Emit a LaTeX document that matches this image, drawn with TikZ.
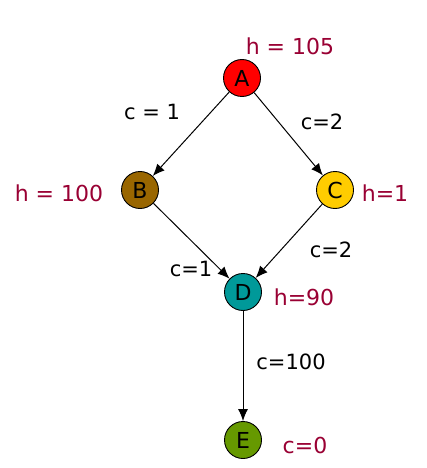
\documentclass[tikz,border=0pt]{standalone}
\usepackage{fontspec}
\setmainfont{DejaVu Sans}
\usetikzlibrary{arrows.meta}
\definecolor{hred}{HTML}{990033}
\definecolor{nA}{HTML}{FF0000}
\definecolor{nB}{HTML}{996600}
\definecolor{nC}{HTML}{FFCC00}
\definecolor{nD}{HTML}{009999}
\definecolor{nE}{HTML}{669900}
\tikzset{
  state/.style={circle,draw=black,line width=0.9pt,minimum size=37pt,inner sep=0pt,font=\fontsize{22}{24}\selectfont},
  hlab/.style={text=hred,font=\fontsize{22}{24}\selectfont,inner sep=0pt},
  clab/.style={text=black,font=\fontsize{21}{23}\selectfont,inner sep=0pt},
  edge/.style={-{Latex[length=12pt,width=10pt]},line width=1pt}
}
\begin{document}
\begin{tikzpicture}[x=1pt,y=-1pt]
\useasboundingbox (0,0) rectangle (426,468);
\node[state,fill=nA] (A) at (242,78) {A};
\node[state,fill=nB] (B) at (140,190) {B};
\node[state,fill=nC] (C) at (335,190) {C};
\node[state,fill=nD] (D) at (243,292) {D};
\node[state,fill=nE] (E) at (243,440) {E};
\draw[edge] (A) -- (B);
\draw[edge] (A) -- (C);
\draw[edge] (B) -- (D);
\draw[edge] (C) -- (D);
\draw[edge] (D) -- (E);
\node[hlab] (hA) at (290,46) {h = 105};
\node[hlab] (hB) at (59,193) {h = 100};
\node[hlab] (hC) at (385,193) {h=1};
\node[hlab] (hD) at (304,297) {h=90};
\node[hlab] (hE) at (305,445) {c=0};
\node[clab] (c1) at (152,112) {c = 1};
\node[clab] (c2) at (322,122) {c=2};
\node[clab] (c3) at (331,250) {c=2};
\node[clab] (c4) at (191,269) {c=1};
\node[clab] (c5) at (291,362) {c=100};
\end{tikzpicture}
\end{document}
